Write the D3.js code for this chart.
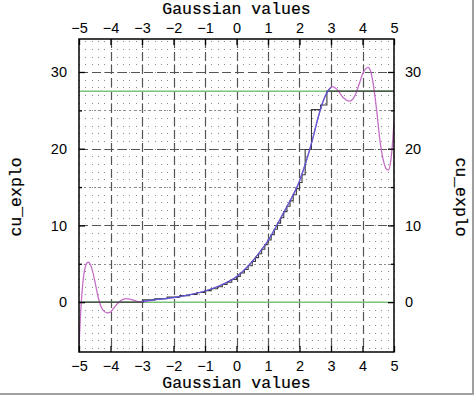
<!DOCTYPE html>
<html><head><meta charset="utf-8">
<script src="https://cdn.jsdelivr.net/npm/d3@7"></script>
<style>
body{margin:0;background:#fff;}
svg{display:block;}
</style></head>
<body>
<svg id="c" width="474" height="395"></svg>
<script>
// ---- data ----
const xTicks = [-5,-4,-3,-2,-1,0,1,2,3,4,5];
const yTicks = [0,10,20,30];
const yMinorTicks = [5,15,25];
const xLabel = "Gaussian values";
const yLabel = "cu_explo";
const limitLines = [0, 27.5];

// smooth approximation (magenta), over full range
const approxX = [-5,-4.95,-4.9,-4.85,-4.8,-4.75,-4.7,-4.65,-4.6,-4.5,-4.4,-4.3,-4.2,-4.1,-4.0,-3.9,-3.8,-3.7,-3.6,-3.5,-3.4,-3.3,-3.2,-3.1,-3.0,
  -2.5,-2.0,-1.5,-1.0,-0.5,0,0.5,1.0,1.5,2.0,2.2,2.4,2.6,2.8,2.9,3.0,3.05,3.2,3.4,3.58,3.7,3.8,3.9,4.0,4.1,4.18,4.25,4.35,4.45,4.55,4.65,4.75,4.82,4.9,4.95,5.0];
const approxY = [-5.8,-1.5,1.5,3.5,4.6,5.1,5.2,5.0,4.5,2.8,0.8,-0.6,-1.2,-1.4,-1.3,-0.8,-0.3,0.1,0.35,0.45,0.4,0.3,0.15,0.05,0.05,
  0.35,0.6,0.95,1.45,2.2,3.3,5.3,8.0,11.7,15.8,18.2,21.0,24.2,26.7,27.5,28.0,28.1,27.7,26.6,26.2,26.5,27.3,28.5,29.7,30.4,30.6,30.2,28.2,25.0,21.2,18.7,17.4,17.2,18.5,20.5,23.5];

// smooth fit within data range (blue)
const fitX = [-3.0,-2.5,-2.0,-1.5,-1.0,-0.5,0.0,0.25,0.5,0.75,1.0,1.25,1.5,1.75,2.0,2.2,2.4,2.5,2.6,2.7,2.8,2.9,3.0];
const fitY = [0.1,0.35,0.6,0.95,1.45,2.2,3.3,4.2,5.3,6.6,8.0,9.8,11.7,13.6,15.8,18.2,21.0,22.6,24.2,25.6,26.7,27.5,28.0];

// empirical step function (step-after)
const stepX = [-5,-2.95,-2.6,-2.2,-1.8,-1.5,-1.25,-1.0,-0.8,-0.6,-0.45,-0.3,-0.15,0,0.12,0.25,0.37,0.5,0.6,0.7,0.8,0.9,1.0,1.1,1.2,1.3,1.4,1.5,1.6,1.7,1.8,1.9,2.0,2.08,2.18,2.38,2.67,2.87,5];
const stepY = [0,0.3,0.45,0.65,0.85,1.0,1.25,1.5,1.75,2.0,2.3,2.6,2.95,3.35,3.8,4.25,4.75,5.3,5.8,6.3,6.9,7.5,8.1,8.8,9.5,10.3,11.0,11.8,12.5,13.2,14.0,14.8,15.6,16.6,19.9,25.1,25.7,27.5,27.5];

// ---- drawing ----
const svg = d3.select("#c");
const L=79, R=394, T=39, B=352;
const x = d3.scaleLinear().domain([-5,5]).range([L,R]);
const y = d3.scaleLinear().domain([-6.5,34.3]).range([B,T]);

svg.append("defs").append("clipPath").attr("id","clip")
  .append("rect").attr("x",L).attr("y",T).attr("width",R-L).attr("height",B-T);

const g = svg.append("g");
// dot grid (minor grid intersections)
const gridXs = d3.range(-50,51,2).map(v=>v/10);
const gridYs = d3.range(-6,35,1);
const dotG = g.append("g").attr("fill","#8a8a8a");
gridYs.forEach(vy=>{
  gridXs.forEach(vx=>{
    dotG.append("rect").attr("x",Math.round(x(vx))).attr("y",Math.round(y(vy))).attr("width",1).attr("height",1);
  });
});
// minor dotted horizontals at 5,15,25
g.append("g").selectAll("line").data(yMinorTicks).join("line")
  .attr("x1",L).attr("x2",R).attr("y1",d=>Math.round(y(d))+0.5).attr("y2",d=>Math.round(y(d))+0.5)
  .attr("stroke","#8a8a8a").attr("stroke-dasharray","2,3");
// major dashed grid
g.append("g").selectAll("line").data(xTicks.slice(1,-1)).join("line")
  .attr("x1",d=>Math.round(x(d))+0.5).attr("x2",d=>Math.round(x(d))+0.5).attr("y1",T).attr("y2",B)
  .attr("stroke","#555").attr("stroke-width",1.2).attr("stroke-dasharray","9,4");
g.append("g").selectAll("line").data(yTicks).join("line")
  .attr("x1",L).attr("x2",R).attr("y1",d=>Math.round(y(d))+0.5).attr("y2",d=>Math.round(y(d))+0.5)
  .attr("stroke","#555").attr("stroke-width",1.2).attr("stroke-dasharray","9,4");

const plot = svg.append("g").attr("clip-path","url(#clip)");
// limit lines
plot.selectAll(".lim").data(limitLines).join("line").attr("class","lim")
  .attr("x1",L).attr("x2",R).attr("y1",d=>y(d)).attr("y2",d=>y(d))
  .attr("stroke","#7cc27c").attr("stroke-width",1.5);

const lineGen = d3.line().x(d=>x(d[0])).y(d=>y(d[1])).curve(d3.curveMonotoneX);
plot.append("path").datum(approxX.map((v,i)=>[v,approxY[i]]))
  .attr("d",lineGen).attr("fill","none").attr("stroke","#c46ec8").attr("stroke-width",1.3);
plot.append("path").datum(stepX.map((v,i)=>[v,stepY[i]]))
  .attr("d",d3.line().x(d=>x(d[0])).y(d=>y(d[1])).curve(d3.curveStepAfter))
  .attr("fill","none").attr("stroke","#3a3a3a").attr("stroke-width",1.1);
plot.append("path").datum(fitX.map((v,i)=>[v,fitY[i]]))
  .attr("d",lineGen).attr("fill","none").attr("stroke","#5a5ad8").attr("stroke-width",1.2);

// axes
const tickFont = "Liberation Sans, Arial, sans-serif";
function styleAxis(sel){
  sel.select(".domain").remove();
  sel.selectAll("line").attr("stroke","#000").attr("stroke-width",1.3);
  sel.selectAll("text").attr("font-family",tickFont).attr("font-size",14.5).attr("fill","#000");
}
svg.append("g").attr("transform",`translate(0,${T})`)
  .call(d3.axisTop(x).tickValues(xTicks).tickSize(-6).tickPadding(6).tickFormat(d3.format("d"))).call(styleAxis);
svg.append("g").attr("transform",`translate(0,${B})`)
  .call(d3.axisBottom(x).tickValues(xTicks).tickSize(-6).tickPadding(9).tickFormat(d3.format("d"))).call(styleAxis);
svg.append("g").attr("transform",`translate(${L},0)`)
  .call(d3.axisLeft(y).tickValues(yTicks).tickSize(-6).tickPadding(12).tickFormat(d3.format("d"))).call(styleAxis);
svg.append("g").attr("transform",`translate(${R},0)`)
  .call(d3.axisRight(y).tickValues(yTicks).tickSize(-6).tickPadding(11).tickFormat(d3.format("d"))).call(styleAxis);
svg.append("g").attr("transform",`translate(${L},0)`)
  .call(d3.axisLeft(y).tickValues(yMinorTicks).tickSize(-3).tickFormat("")).call(styleAxis);
svg.append("g").attr("transform",`translate(${R},0)`)
  .call(d3.axisRight(y).tickValues(yMinorTicks).tickSize(-3).tickFormat("")).call(styleAxis);

// frame
svg.append("rect").attr("x",L).attr("y",T).attr("width",R-L).attr("height",B-T)
  .attr("fill","none").attr("stroke","#000").attr("stroke-width",1.5);

// labels
const labFont = "Liberation Mono, Courier New, monospace";
function lab(sel){
  sel.attr("font-family",labFont).attr("font-size",16.5).attr("text-anchor","middle")
     .attr("fill","#000").attr("stroke","#000").attr("stroke-width",0.2);
}
svg.append("text").attr("x",(L+R)/2).attr("y",14).call(lab).text(xLabel);
svg.append("text").attr("x",(L+R)/2).attr("y",388).call(lab).text(xLabel);
svg.append("text").attr("transform","translate(21,197) rotate(-90)").call(lab).text(yLabel);
svg.append("text").attr("transform","translate(456,197) rotate(90)").call(lab).text(yLabel);

// window border
svg.append("rect").attr("x",472).attr("y",0).attr("width",2).attr("height",395).attr("fill","#a0a0a0");
svg.append("rect").attr("x",0).attr("y",393).attr("width",474).attr("height",2).attr("fill","#a0a0a0");
</script>
</body></html>
